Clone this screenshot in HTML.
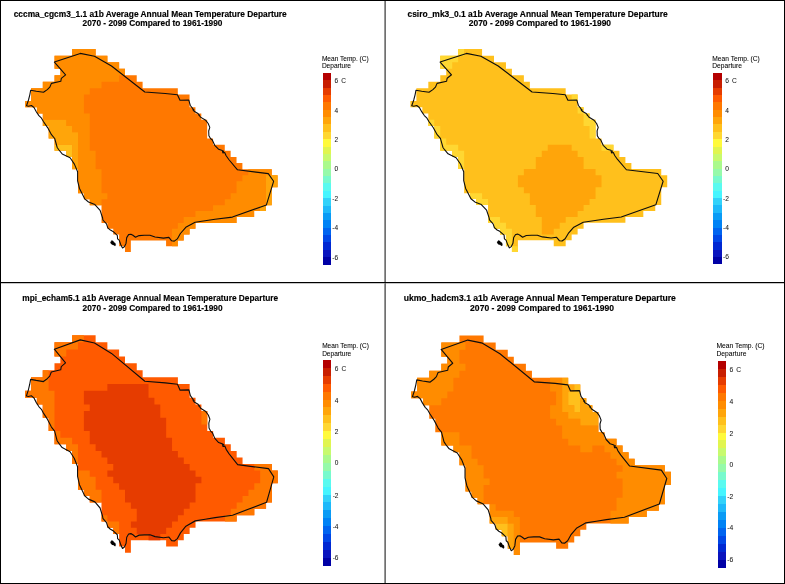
<!DOCTYPE html>
<html><head><meta charset="utf-8"><title>Average Annual Mean Temperature Departure</title>
<style>
html,body{margin:0;padding:0;background:#fff}
svg{display:block}
text{font-family:"Liberation Sans",sans-serif;white-space:pre}
</style></head><body>
<svg width="785" height="584" viewBox="0 0 785 584">
<rect x="0" y="0" width="785" height="584" fill="#fff"/>
<g transform="matrix(1.00000 0 0 1.00000 0.000 0.000)">
<g font-weight="bold" font-size="8.36" text-anchor="middle" fill="#000" stroke="#000" stroke-width="0.15"><text x="150.2" y="16.8" textLength="273" lengthAdjust="spacingAndGlyphs">cccma_cgcm3_1.1 a1b Average Annual Mean Temperature Departure</text><text x="152.5" y="26" textLength="139.9" lengthAdjust="spacingAndGlyphs">2070 - 2099 Compared to 1961-1990</text></g>
<path fill="#FF7800" d="M60.42 68.79V75.29H54.55V81.75H42.81V88.18H31.07V100.94H25.2V107.28H36.94V113.58H42.81V126.11H48.68V138.53H54.55V150.85H66.29V156.97H72.16V169.14H78.03V193.22H83.9V199.19H89.77V205.14H101.51V222.88H107.38V228.75H113.25V234.61H119.12V246.29H124.99V252.1H130.86V240.46H166.08V246.29H177.82V240.46H183.69V234.61H189.56V228.75H195.43V222.88H236.52V216.98H254.13V211.07H265.87V205.14H271.74V187.23H277.61V175.19H271.74V169.14H242.39V163.07H236.52V156.97H230.65V150.85H224.78V144.7H213.04V138.53H207.17V119.86H201.3V113.58H195.43V107.28H189.56V94.57H177.82V88.18H142.6V81.75H136.73V75.29H124.99V68.79H119.12V62.26H107.38V55.7H95.64V49.1H72.16V55.7H54.55V68.79Z"/>
<path fill="#FF8C00" d="M54.55 81.75H42.81V88.18H31.07V100.94H25.2V107.28H36.94V113.58H42.81V119.86H66.29V126.11H72.16V132.33H78.03V193.22H83.9V199.19H89.77V205.14H101.51V199.19H107.38V193.22H101.51V169.14H95.64V150.85H89.77V113.58H83.9V94.57H89.77V88.18H101.51V81.75H119.12V75.29H124.99V68.79H119.12V62.26H107.38V55.7H95.64V49.1H72.16V55.7H54.55V68.79H60.42V75.29H54.55ZM195.43 211.07V216.98H183.69V222.88H177.82V228.75H171.95V246.29H177.82V240.46H183.69V234.61H189.56V228.75H195.43V222.88H236.52V216.98H254.13V211.07H260V205.14H265.87V175.19H271.74V169.14H248.26V175.19H242.39V181.22H236.52V193.22H230.65V199.19H224.78V205.14H213.04V211.07Z"/>
<path fill="#FFA50A" d="M48.68 138.53H54.55V144.7H72.16V169.14H78.03V132.33H72.16V126.11H66.29V119.86H42.81V126.11H48.68ZM265.87 205.14H271.74V187.23H277.61V175.19H265.87ZM260 205.14V211.07H265.87V205.14Z"/>
<path fill="#FFC01C" d="M54.55 150.85H66.29V156.97H72.16V144.7H54.55Z"/>
<path d="M30.7 90.2 36.3 91.2 43.5 92.3 47.3 89.6 49.8 87.2 51.4 83.4 60.8 81.3 61.3 78.3 65.6 74.8 54.4 62.1 80.3 53.4 94.5 56.3 111.5 66.0 144.8 92.0 165.2 93.5 177.4 94.8 180.0 100.3 188.8 100.1 190.3 105.5 192.8 108.7 194.1 111.3 198.0 113.5 200.5 117.1 205.7 120.3 208.2 123.5 209.8 127.4 208.7 131.0 208.9 135.7 210.5 138.5 212.3 140.0 214.7 145.3 218.5 149.2 222.3 150.4 222.9 152.9 224.7 152.5 226.0 155.5 228.8 159.5 237.5 169.8 268.3 173.6 273.6 181.3 266.4 204.9 232.4 217.1 215.0 219.3 205.1 220.8 195.1 222.3 185.8 227.3 180.4 233.5 177.3 238.9 174.3 241.1 171.6 240.8 168.9 237.4 163.5 238.1 155.0 237.0 150.0 235.3 144.3 235.3 139.1 235.6 135.5 237.3 132.9 235.3 130.9 234.2 128.6 234.6 126.7 237.6 126.0 243.4 124.4 246.7 122.5 248.0 120.8 244.7 119.2 240.2 117.6 238.9 117.3 235.3 113.0 231.4 110.4 230.1 107.8 227.8 106.5 223.9 102.9 220.0 102.6 218.0 100.1 210.3 94.9 204.6 88.5 202.0 84.7 198.8 79.5 188.5 77.6 180.8 77.6 171.8 74.4 164.1 70.1 157.8 62.2 153.9 59.0 150.0 57.2 147.5 54.7 138.5 51.5 134.7 47.6 127.6 43.4 121.5 41.5 118.2 38.9 115.6 36.3 111.7 34.0 107.5 31.4 105.5 28.5 106.2 26.5 105.8 28.5 100.0 29.8 94.8Z" fill="none" stroke="#0d0d0d" stroke-width="1.08" stroke-linejoin="round"/><path d="M111.6 240.3 113.3 241.0 113.9 242.2 115.3 242.9 115.8 244.8 115.3 246.1 114.4 245.8 113.3 244.9 112.1 244.8 110.8 243.5 110.2 242.0 111.1 241.4Z" fill="#000" stroke="#000" stroke-width="0.1" stroke-linejoin="round"/><circle cx="193.5" cy="110.0" r="0.9" fill="#111"/><circle cx="199.3" cy="115.3" r="0.8" fill="#111"/><circle cx="223.3" cy="151.3" r="0.9" fill="#111"/>
<g transform="matrix(1 0 0 1.00000 0 0.0000)"><g shape-rendering="crispEdges"><rect x="323" y="72.9" width="8" height="7.37" fill="#B40000"/><rect x="323" y="80.27" width="8" height="7.37" fill="#C81E00"/><rect x="323" y="87.64" width="8" height="7.37" fill="#E63C00"/><rect x="323" y="95.01" width="8" height="7.37" fill="#FF5A00"/><rect x="323" y="102.38" width="8" height="7.37" fill="#FF7800"/><rect x="323" y="109.75" width="8" height="7.37" fill="#FF8C00"/><rect x="323" y="117.12" width="8" height="7.37" fill="#FFA50A"/><rect x="323" y="124.49" width="8" height="7.37" fill="#FFC01C"/><rect x="323" y="131.86" width="8" height="7.37" fill="#FFD732"/><rect x="323" y="139.23" width="8" height="7.37" fill="#FFFA3C"/><rect x="323" y="146.6" width="8" height="7.37" fill="#E1F550"/><rect x="323" y="153.97" width="8" height="7.37" fill="#C8FA6E"/><rect x="323" y="161.34" width="8" height="7.37" fill="#AAFA8C"/><rect x="323" y="168.71" width="8" height="7.37" fill="#96FAAA"/><rect x="323" y="176.08" width="8" height="7.37" fill="#78FACD"/><rect x="323" y="183.45" width="8" height="7.37" fill="#5AFAF0"/><rect x="323" y="190.82" width="8" height="7.37" fill="#46F5FF"/><rect x="323" y="198.19" width="8" height="7.37" fill="#32D2FA"/><rect x="323" y="205.56" width="8" height="7.37" fill="#1EB9FA"/><rect x="323" y="212.93" width="8" height="7.37" fill="#0A9BF5"/><rect x="323" y="220.3" width="8" height="7.37" fill="#0082F5"/><rect x="323" y="227.67" width="8" height="7.37" fill="#0064F0"/><rect x="323" y="235.04" width="8" height="7.37" fill="#0046E6"/><rect x="323" y="242.41" width="8" height="7.37" fill="#0028D2"/><rect x="323" y="249.78" width="8" height="7.37" fill="#0A14BE"/><rect x="323" y="257.15" width="8" height="7.37" fill="#0000A5"/></g>
<g font-size="6.55" fill="#111" stroke="#000" stroke-width="0.04"><text x="338.2" y="83.17" text-anchor="end">6</text><text x="338.2" y="112.65" text-anchor="end">4</text><text x="338.2" y="142.13" text-anchor="end">2</text><text x="338.2" y="171.01" text-anchor="end">0</text><text x="338.2" y="201.09" text-anchor="end">-2</text><text x="338.2" y="229.87" text-anchor="end">-4</text><text x="338.2" y="259.55" text-anchor="end">-6</text><text x="341.2" y="83.17">C</text></g></g>
<g font-size="6.55" fill="#000" stroke="#000" stroke-width="0.06"><text x="321.9" y="60.8">Mean Temp. (C)</text><text x="321.9" y="68.1">Departure</text></g>
</g>
<g transform="matrix(1.01743 0 0 0.99951 384.761 0.024)">
<g font-weight="bold" font-size="8.36" text-anchor="middle" fill="#000" stroke="#000" stroke-width="0.15"><text x="150.2" y="16.8" textLength="255.75" lengthAdjust="spacingAndGlyphs">csiro_mk3_0.1 a1b Average Annual Mean Temperature Departure</text><text x="152.5" y="26" textLength="139.9" lengthAdjust="spacingAndGlyphs">2070 - 2099 Compared to 1961-1990</text></g>
<path fill="#FFC01C" d="M54.55 68.79H60.42V75.29H54.55V81.75H42.81V88.18H31.07V100.94H25.2V107.28H36.94V113.58H42.81V126.11H48.68V138.53H54.55V150.85H66.29V156.97H72.16V169.14H78.03V193.22H83.9V199.19H89.77V205.14H101.51V222.88H107.38V228.75H113.25V234.61H119.12V246.29H124.99V252.1H130.86V240.46H166.08V246.29H177.82V240.46H183.69V234.61H189.56V228.75H195.43V222.88H236.52V216.98H254.13V211.07H265.87V205.14H271.74V187.23H277.61V175.19H271.74V169.14H242.39V163.07H236.52V156.97H230.65V150.85H224.78V144.7H213.04V138.53H207.17V119.86H201.3V113.58H195.43V107.28H189.56V94.57H177.82V88.18H142.6V81.75H136.73V75.29H124.99V68.79H119.12V62.26H107.38V55.7H95.64V49.1H72.16V55.7H54.55Z"/>
<path fill="#FFD732" d="M72.16 49.1V55.7H78.03V49.1ZM54.55 55.7V68.79H66.29V62.26H72.16V55.7ZM48.68 119.86H42.81V126.11H48.68ZM54.55 126.11H48.68V138.53H54.55ZM66.29 150.85V156.97H72.16V169.14H78.03V150.85H72.16V144.7H60.42V138.53H54.55V150.85ZM83.9 193.22V199.19H89.77V205.14H101.51V199.19H95.64V193.22ZM183.69 94.57V100.94H189.56V94.57ZM195.43 107.28H189.56V113.58H195.43ZM195.43 126.11H201.3V138.53H207.17V119.86H201.3V113.58H195.43ZM224.78 150.85V144.7H213.04V150.85ZM113.25 228.75V234.61H119.12V246.29H124.99V228.75H119.12V222.88H113.25V216.98H101.51V222.88H107.38V228.75ZM130.86 252.1V246.29H124.99V252.1Z"/>
<path fill="#FFA50A" d="M154.34 156.97H148.47V169.14H136.73V175.19H130.86V187.23H136.73V193.22H142.6V205.14H148.47V216.98H154.34V234.61H166.08V228.75H171.95V222.88H177.82V216.98H189.56V211.07H195.43V205.14H201.3V199.19H207.17V187.23H213.04V175.19H207.17V169.14H195.43V156.97H189.56V150.85H183.69V144.7H160.21V150.85H154.34Z"/>
<path d="M30.7 90.2 36.3 91.2 43.5 92.3 47.3 89.6 49.8 87.2 51.4 83.4 60.8 81.3 61.3 78.3 65.6 74.8 54.4 62.1 80.3 53.4 94.5 56.3 111.5 66.0 144.8 92.0 165.2 93.5 177.4 94.8 180.0 100.3 188.8 100.1 190.3 105.5 192.8 108.7 194.1 111.3 198.0 113.5 200.5 117.1 205.7 120.3 208.2 123.5 209.8 127.4 208.7 131.0 208.9 135.7 210.5 138.5 212.3 140.0 214.7 145.3 218.5 149.2 222.3 150.4 222.9 152.9 224.7 152.5 226.0 155.5 228.8 159.5 237.5 169.8 268.3 173.6 273.6 181.3 266.4 204.9 232.4 217.1 215.0 219.3 205.1 220.8 195.1 222.3 185.8 227.3 180.4 233.5 177.3 238.9 174.3 241.1 171.6 240.8 168.9 237.4 163.5 238.1 155.0 237.0 150.0 235.3 144.3 235.3 139.1 235.6 135.5 237.3 132.9 235.3 130.9 234.2 128.6 234.6 126.7 237.6 126.0 243.4 124.4 246.7 122.5 248.0 120.8 244.7 119.2 240.2 117.6 238.9 117.3 235.3 113.0 231.4 110.4 230.1 107.8 227.8 106.5 223.9 102.9 220.0 102.6 218.0 100.1 210.3 94.9 204.6 88.5 202.0 84.7 198.8 79.5 188.5 77.6 180.8 77.6 171.8 74.4 164.1 70.1 157.8 62.2 153.9 59.0 150.0 57.2 147.5 54.7 138.5 51.5 134.7 47.6 127.6 43.4 121.5 41.5 118.2 38.9 115.6 36.3 111.7 34.0 107.5 31.4 105.5 28.5 106.2 26.5 105.8 28.5 100.0 29.8 94.8Z" fill="none" stroke="#0d0d0d" stroke-width="1.08" stroke-linejoin="round"/><path d="M111.6 240.3 113.3 241.0 113.9 242.2 115.3 242.9 115.8 244.8 115.3 246.1 114.4 245.8 113.3 244.9 112.1 244.8 110.8 243.5 110.2 242.0 111.1 241.4Z" fill="#000" stroke="#000" stroke-width="0.1" stroke-linejoin="round"/><circle cx="193.5" cy="110.0" r="0.9" fill="#111"/><circle cx="199.3" cy="115.3" r="0.8" fill="#111"/><circle cx="223.3" cy="151.3" r="0.9" fill="#111"/>
<g transform="matrix(1 0 0 1.00000 0 0.0000)"><g shape-rendering="crispEdges"><rect x="323" y="72.9" width="8" height="7.37" fill="#B40000"/><rect x="323" y="80.27" width="8" height="7.37" fill="#C81E00"/><rect x="323" y="87.64" width="8" height="7.37" fill="#E63C00"/><rect x="323" y="95.01" width="8" height="7.37" fill="#FF5A00"/><rect x="323" y="102.38" width="8" height="7.37" fill="#FF7800"/><rect x="323" y="109.75" width="8" height="7.37" fill="#FF8C00"/><rect x="323" y="117.12" width="8" height="7.37" fill="#FFA50A"/><rect x="323" y="124.49" width="8" height="7.37" fill="#FFC01C"/><rect x="323" y="131.86" width="8" height="7.37" fill="#FFD732"/><rect x="323" y="139.23" width="8" height="7.37" fill="#FFFA3C"/><rect x="323" y="146.6" width="8" height="7.37" fill="#E1F550"/><rect x="323" y="153.97" width="8" height="7.37" fill="#C8FA6E"/><rect x="323" y="161.34" width="8" height="7.37" fill="#AAFA8C"/><rect x="323" y="168.71" width="8" height="7.37" fill="#96FAAA"/><rect x="323" y="176.08" width="8" height="7.37" fill="#78FACD"/><rect x="323" y="183.45" width="8" height="7.37" fill="#5AFAF0"/><rect x="323" y="190.82" width="8" height="7.37" fill="#46F5FF"/><rect x="323" y="198.19" width="8" height="7.37" fill="#32D2FA"/><rect x="323" y="205.56" width="8" height="7.37" fill="#1EB9FA"/><rect x="323" y="212.93" width="8" height="7.37" fill="#0A9BF5"/><rect x="323" y="220.3" width="8" height="7.37" fill="#0082F5"/><rect x="323" y="227.67" width="8" height="7.37" fill="#0064F0"/><rect x="323" y="235.04" width="8" height="7.37" fill="#0046E6"/><rect x="323" y="242.41" width="8" height="7.37" fill="#0028D2"/><rect x="323" y="249.78" width="8" height="7.37" fill="#0A14BE"/><rect x="323" y="257.15" width="8" height="7.37" fill="#0000A5"/></g>
<g font-size="6.55" fill="#111" stroke="#000" stroke-width="0.04"><text x="338.2" y="83.17" text-anchor="end">6</text><text x="338.2" y="112.65" text-anchor="end">4</text><text x="338.2" y="142.13" text-anchor="end">2</text><text x="338.2" y="171.01" text-anchor="end">0</text><text x="338.2" y="201.09" text-anchor="end">-2</text><text x="338.2" y="229.87" text-anchor="end">-4</text><text x="338.2" y="259.55" text-anchor="end">-6</text><text x="341.2" y="83.17">C</text></g></g>
<g font-size="6.55" fill="#000" stroke="#000" stroke-width="0.06"><text x="321.9" y="60.8">Mean Temp. (C)</text><text x="321.9" y="68.1">Departure</text></g>
</g>
<g transform="matrix(1.00119 0 0 1.07143 -0.130 282.693)">
<g font-weight="bold" font-size="8.36" text-anchor="middle" fill="#000" stroke="#000" stroke-width="0.15"><text x="150.2" y="16.8" textLength="255.5" lengthAdjust="spacingAndGlyphs">mpi_echam5.1 a1b Average Annual Mean Temperature Departure</text><text x="152.5" y="26" textLength="139.9" lengthAdjust="spacingAndGlyphs">2070 - 2099 Compared to 1961-1990</text></g>
<path fill="#FF5A00" d="M54.55 55.7V68.79H60.42V75.29H54.55V81.75H42.81V88.18H31.07V100.94H25.2V107.28H36.94V113.58H42.81V126.11H48.68V138.53H54.55V150.85H66.29V156.97H72.16V169.14H78.03V193.22H83.9V199.19H89.77V205.14H101.51V222.88H107.38V228.75H113.25V234.61H119.12V246.29H124.99V252.1H130.86V240.46H166.08V246.29H177.82V240.46H183.69V234.61H189.56V228.75H195.43V222.88H236.52V216.98H254.13V211.07H265.87V205.14H271.74V187.23H277.61V175.19H271.74V169.14H242.39V163.07H236.52V156.97H230.65V150.85H224.78V144.7H213.04V138.53H207.17V119.86H201.3V113.58H195.43V107.28H189.56V94.57H177.82V88.18H142.6V81.75H136.73V75.29H124.99V68.79H119.12V62.26H107.38V55.7H95.64V49.1H72.16V55.7Z"/>
<path fill="#FF7800" d="M66.29 62.26H78.03V55.7H83.9V49.1H72.16V55.7H54.55V68.79H66.29ZM31.07 88.18V100.94H25.2V107.28H36.94V113.58H42.81V126.11H48.68V138.53H54.55V100.94H48.68V81.75H42.81V88.18ZM66.29 156.97H72.16V169.14H78.03V150.85H72.16V144.7H60.42V138.53H54.55V150.85H66.29ZM207.17 119.86H201.3V132.33H207.17ZM78.03 193.22H83.9V199.19H89.77V205.14H101.51V193.22H95.64V181.22H89.77V175.19H78.03ZM236.52 211.07H230.65V216.98H224.78V222.88H236.52V216.98H254.13V211.07H265.87V205.14H271.74V187.23H277.61V175.19H271.74V169.14H254.13V175.19H260V187.23H254.13V193.22H248.26V199.19H242.39V205.14H236.52ZM107.38 222.88V216.98H101.51V222.88ZM119.12 222.88H107.38V228.75H113.25V234.61H119.12Z"/>
<path fill="#E63C00" d="M83.9 113.58H89.77V119.86H83.9V138.53H89.77V150.85H95.64V156.97H101.51V163.07H107.38V169.14H113.25V175.19H107.38V181.22H113.25V187.23H119.12V193.22H124.99V205.14H130.86V211.07H136.73V222.88H130.86V228.75H136.73V234.61H148.47V240.46H160.21V234.61H166.08V228.75H171.95V222.88H177.82V216.98H183.69V211.07H189.56V205.14H195.43V187.23H201.3V181.22H195.43V175.19H189.56V169.14H183.69V163.07H177.82V156.97H171.95V144.7H166.08V126.11H160.21V113.58H154.34V107.28H148.47V94.57H107.38V100.94H83.9Z"/>
<path d="M30.7 90.2 36.3 91.2 43.5 92.3 47.3 89.6 49.8 87.2 51.4 83.4 60.8 81.3 61.3 78.3 65.6 74.8 54.4 62.1 80.3 53.4 94.5 56.3 111.5 66.0 144.8 92.0 165.2 93.5 177.4 94.8 180.0 100.3 188.8 100.1 190.3 105.5 192.8 108.7 194.1 111.3 198.0 113.5 200.5 117.1 205.7 120.3 208.2 123.5 209.8 127.4 208.7 131.0 208.9 135.7 210.5 138.5 212.3 140.0 214.7 145.3 218.5 149.2 222.3 150.4 222.9 152.9 224.7 152.5 226.0 155.5 228.8 159.5 237.5 169.8 268.3 173.6 273.6 181.3 266.4 204.9 232.4 217.1 215.0 219.3 205.1 220.8 195.1 222.3 185.8 227.3 180.4 233.5 177.3 238.9 174.3 241.1 171.6 240.8 168.9 237.4 163.5 238.1 155.0 237.0 150.0 235.3 144.3 235.3 139.1 235.6 135.5 237.3 132.9 235.3 130.9 234.2 128.6 234.6 126.7 237.6 126.0 243.4 124.4 246.7 122.5 248.0 120.8 244.7 119.2 240.2 117.6 238.9 117.3 235.3 113.0 231.4 110.4 230.1 107.8 227.8 106.5 223.9 102.9 220.0 102.6 218.0 100.1 210.3 94.9 204.6 88.5 202.0 84.7 198.8 79.5 188.5 77.6 180.8 77.6 171.8 74.4 164.1 70.1 157.8 62.2 153.9 59.0 150.0 57.2 147.5 54.7 138.5 51.5 134.7 47.6 127.6 43.4 121.5 41.5 118.2 38.9 115.6 36.3 111.7 34.0 107.5 31.4 105.5 28.5 106.2 26.5 105.8 28.5 100.0 29.8 94.8Z" fill="none" stroke="#0d0d0d" stroke-width="1.08" stroke-linejoin="round"/><path d="M111.6 240.3 113.3 241.0 113.9 242.2 115.3 242.9 115.8 244.8 115.3 246.1 114.4 245.8 113.3 244.9 112.1 244.8 110.8 243.5 110.2 242.0 111.1 241.4Z" fill="#000" stroke="#000" stroke-width="0.1" stroke-linejoin="round"/><circle cx="193.5" cy="110.0" r="0.9" fill="#111"/><circle cx="199.3" cy="115.3" r="0.8" fill="#111"/><circle cx="223.3" cy="151.3" r="0.9" fill="#111"/>
<g transform="matrix(1 0 0 1.00244 0 -0.9242)"><g shape-rendering="crispEdges"><rect x="323" y="72.9" width="8" height="7.37" fill="#B40000"/><rect x="323" y="80.27" width="8" height="7.37" fill="#C81E00"/><rect x="323" y="87.64" width="8" height="7.37" fill="#E63C00"/><rect x="323" y="95.01" width="8" height="7.37" fill="#FF5A00"/><rect x="323" y="102.38" width="8" height="7.37" fill="#FF7800"/><rect x="323" y="109.75" width="8" height="7.37" fill="#FF8C00"/><rect x="323" y="117.12" width="8" height="7.37" fill="#FFA50A"/><rect x="323" y="124.49" width="8" height="7.37" fill="#FFC01C"/><rect x="323" y="131.86" width="8" height="7.37" fill="#FFD732"/><rect x="323" y="139.23" width="8" height="7.37" fill="#FFFA3C"/><rect x="323" y="146.6" width="8" height="7.37" fill="#E1F550"/><rect x="323" y="153.97" width="8" height="7.37" fill="#C8FA6E"/><rect x="323" y="161.34" width="8" height="7.37" fill="#AAFA8C"/><rect x="323" y="168.71" width="8" height="7.37" fill="#96FAAA"/><rect x="323" y="176.08" width="8" height="7.37" fill="#78FACD"/><rect x="323" y="183.45" width="8" height="7.37" fill="#5AFAF0"/><rect x="323" y="190.82" width="8" height="7.37" fill="#46F5FF"/><rect x="323" y="198.19" width="8" height="7.37" fill="#32D2FA"/><rect x="323" y="205.56" width="8" height="7.37" fill="#1EB9FA"/><rect x="323" y="212.93" width="8" height="7.37" fill="#0A9BF5"/><rect x="323" y="220.3" width="8" height="7.37" fill="#0082F5"/><rect x="323" y="227.67" width="8" height="7.37" fill="#0064F0"/><rect x="323" y="235.04" width="8" height="7.37" fill="#0046E6"/><rect x="323" y="242.41" width="8" height="7.37" fill="#0028D2"/><rect x="323" y="249.78" width="8" height="7.37" fill="#0A14BE"/><rect x="323" y="257.15" width="8" height="7.37" fill="#0000A5"/></g>
<g font-size="6.55" fill="#111" stroke="#000" stroke-width="0.04"><text x="338.2" y="83.17" text-anchor="end">6</text><text x="338.2" y="112.65" text-anchor="end">4</text><text x="338.2" y="142.13" text-anchor="end">2</text><text x="338.2" y="171.01" text-anchor="end">0</text><text x="338.2" y="201.09" text-anchor="end">-2</text><text x="338.2" y="229.87" text-anchor="end">-4</text><text x="338.2" y="259.55" text-anchor="end">-6</text><text x="341.2" y="83.17">C</text></g></g>
<g font-size="6.55" fill="#000" stroke="#000" stroke-width="0.06"><text x="321.9" y="60.8">Mean Temp. (C)</text><text x="321.9" y="68.1">Departure</text></g>
</g>
<g transform="matrix(1.02932 0 0 1.08227 385.161 282.261)">
<g font-weight="bold" font-size="8.36" text-anchor="middle" fill="#000" stroke="#000" stroke-width="0.15"><text x="150.2" y="17.6" textLength="264.5" lengthAdjust="spacingAndGlyphs">ukmo_hadcm3.1 a1b Average Annual Mean Temperature Departure</text><text x="152.5" y="26.8" textLength="139.9" lengthAdjust="spacingAndGlyphs">2070 - 2099 Compared to 1961-1990</text></g>
<path fill="#FF7800" d="M54.55 68.79H60.42V75.29H54.55V81.75H42.81V88.18H31.07V100.94H25.2V107.28H36.94V113.58H42.81V126.11H48.68V138.53H54.55V150.85H66.29V156.97H72.16V169.14H78.03V193.22H83.9V199.19H89.77V205.14H101.51V222.88H107.38V228.75H113.25V234.61H119.12V246.29H124.99V252.1H130.86V240.46H166.08V246.29H177.82V240.46H183.69V234.61H189.56V228.75H195.43V222.88H236.52V216.98H254.13V211.07H265.87V205.14H271.74V187.23H277.61V175.19H271.74V169.14H242.39V163.07H236.52V156.97H230.65V150.85H224.78V144.7H213.04V138.53H207.17V119.86H201.3V113.58H195.43V107.28H189.56V94.57H177.82V88.18H142.6V81.75H136.73V75.29H124.99V68.79H119.12V62.26H107.38V55.7H95.64V49.1H72.16V55.7H54.55Z"/>
<path fill="#FF8C00" d="M54.55 81.75H42.81V88.18H31.07V100.94H25.2V107.28H36.94V113.58H54.55V107.28H60.42V100.94H66.29V88.18H72.16V81.75H78.03V75.29H72.16V62.26H78.03V55.7H54.55V68.79H60.42V75.29H54.55ZM54.55 150.85H66.29V156.97H72.16V169.14H78.03V193.22H83.9V199.19H89.77V205.14H95.64V187.23H101.51V181.22H95.64V169.14H89.77V163.07H83.9V150.85H72.16V138.53H54.55ZM101.51 216.98H119.12V222.88H124.99V252.1H130.86V216.98H124.99V211.07H107.38V205.14H101.51ZM166.08 113.58H160.21V126.11H166.08V132.33H171.95V144.7H177.82V150.85H189.56V156.97H201.3V150.85H213.04V156.97H218.91V163.07H224.78V169.14H230.65V175.19H224.78V181.22H230.65V199.19H224.78V211.07H218.91V222.88H236.52V216.98H254.13V211.07H265.87V205.14H271.74V187.23H277.61V175.19H271.74V169.14H242.39V163.07H236.52V156.97H230.65V150.85H224.78V144.7H213.04V138.53H207.17V132.33H189.56V126.11H177.82V119.86H171.95V88.18H160.21V100.94H166.08Z"/>
<path fill="#FFA50A" d="M171.95 119.86H177.82V126.11H189.56V132.33H207.17V119.86H201.3V113.58H195.43V107.28H189.56V119.86H183.69V113.58H177.82V100.94H183.69V94.57H177.82V88.18H171.95ZM119.12 222.88V216.98H101.51V222.88ZM119.12 246.29H124.99V222.88H119.12Z"/>
<path fill="#FFC01C" d="M183.69 94.57V100.94H177.82V113.58H183.69V119.86H189.56V94.57ZM113.25 228.75V234.61H119.12V222.88H107.38V228.75Z"/>
<path d="M30.7 90.2 36.3 91.2 43.5 92.3 47.3 89.6 49.8 87.2 51.4 83.4 60.8 81.3 61.3 78.3 65.6 74.8 54.4 62.1 80.3 53.4 94.5 56.3 111.5 66.0 144.8 92.0 165.2 93.5 177.4 94.8 180.0 100.3 188.8 100.1 190.3 105.5 192.8 108.7 194.1 111.3 198.0 113.5 200.5 117.1 205.7 120.3 208.2 123.5 209.8 127.4 208.7 131.0 208.9 135.7 210.5 138.5 212.3 140.0 214.7 145.3 218.5 149.2 222.3 150.4 222.9 152.9 224.7 152.5 226.0 155.5 228.8 159.5 237.5 169.8 268.3 173.6 273.6 181.3 266.4 204.9 232.4 217.1 215.0 219.3 205.1 220.8 195.1 222.3 185.8 227.3 180.4 233.5 177.3 238.9 174.3 241.1 171.6 240.8 168.9 237.4 163.5 238.1 155.0 237.0 150.0 235.3 144.3 235.3 139.1 235.6 135.5 237.3 132.9 235.3 130.9 234.2 128.6 234.6 126.7 237.6 126.0 243.4 124.4 246.7 122.5 248.0 120.8 244.7 119.2 240.2 117.6 238.9 117.3 235.3 113.0 231.4 110.4 230.1 107.8 227.8 106.5 223.9 102.9 220.0 102.6 218.0 100.1 210.3 94.9 204.6 88.5 202.0 84.7 198.8 79.5 188.5 77.6 180.8 77.6 171.8 74.4 164.1 70.1 157.8 62.2 153.9 59.0 150.0 57.2 147.5 54.7 138.5 51.5 134.7 47.6 127.6 43.4 121.5 41.5 118.2 38.9 115.6 36.3 111.7 34.0 107.5 31.4 105.5 28.5 106.2 26.5 105.8 28.5 100.0 29.8 94.8Z" fill="none" stroke="#0d0d0d" stroke-width="1.08" stroke-linejoin="round"/><path d="M111.6 240.3 113.3 241.0 113.9 242.2 115.3 242.9 115.8 244.8 115.3 246.1 114.4 245.8 113.3 244.9 112.1 244.8 110.8 243.5 110.2 242.0 111.1 241.4Z" fill="#000" stroke="#000" stroke-width="0.1" stroke-linejoin="round"/><circle cx="193.5" cy="110.0" r="0.9" fill="#111"/><circle cx="199.3" cy="115.3" r="0.8" fill="#111"/><circle cx="223.3" cy="151.3" r="0.9" fill="#111"/>
<g transform="matrix(1 0 0 0.99807 0 -0.1366)"><g shape-rendering="crispEdges"><rect x="323" y="72.9" width="8" height="7.37" fill="#B40000"/><rect x="323" y="80.27" width="8" height="7.37" fill="#C81E00"/><rect x="323" y="87.64" width="8" height="7.37" fill="#E63C00"/><rect x="323" y="95.01" width="8" height="7.37" fill="#FF5A00"/><rect x="323" y="102.38" width="8" height="7.37" fill="#FF7800"/><rect x="323" y="109.75" width="8" height="7.37" fill="#FF8C00"/><rect x="323" y="117.12" width="8" height="7.37" fill="#FFA50A"/><rect x="323" y="124.49" width="8" height="7.37" fill="#FFC01C"/><rect x="323" y="131.86" width="8" height="7.37" fill="#FFD732"/><rect x="323" y="139.23" width="8" height="7.37" fill="#FFFA3C"/><rect x="323" y="146.6" width="8" height="7.37" fill="#E1F550"/><rect x="323" y="153.97" width="8" height="7.37" fill="#C8FA6E"/><rect x="323" y="161.34" width="8" height="7.37" fill="#AAFA8C"/><rect x="323" y="168.71" width="8" height="7.37" fill="#96FAAA"/><rect x="323" y="176.08" width="8" height="7.37" fill="#78FACD"/><rect x="323" y="183.45" width="8" height="7.37" fill="#5AFAF0"/><rect x="323" y="190.82" width="8" height="7.37" fill="#46F5FF"/><rect x="323" y="198.19" width="8" height="7.37" fill="#32D2FA"/><rect x="323" y="205.56" width="8" height="7.37" fill="#1EB9FA"/><rect x="323" y="212.93" width="8" height="7.37" fill="#0A9BF5"/><rect x="323" y="220.3" width="8" height="7.37" fill="#0082F5"/><rect x="323" y="227.67" width="8" height="7.37" fill="#0064F0"/><rect x="323" y="235.04" width="8" height="7.37" fill="#0046E6"/><rect x="323" y="242.41" width="8" height="7.37" fill="#0028D2"/><rect x="323" y="249.78" width="8" height="7.37" fill="#0A14BE"/><rect x="323" y="257.15" width="8" height="7.37" fill="#0000A5"/></g>
<g font-size="6.55" fill="#111" stroke="#000" stroke-width="0.04"><text x="338.2" y="83.17" text-anchor="end">6</text><text x="338.2" y="112.65" text-anchor="end">4</text><text x="338.2" y="142.13" text-anchor="end">2</text><text x="338.2" y="171.01" text-anchor="end">0</text><text x="338.2" y="201.09" text-anchor="end">-2</text><text x="338.2" y="229.87" text-anchor="end">-4</text><text x="338.2" y="259.55" text-anchor="end">-6</text><text x="341.2" y="83.17">C</text></g></g>
<g font-size="6.55" fill="#000" stroke="#000" stroke-width="0.06"><text x="321.9" y="60.8">Mean Temp. (C)</text><text x="321.9" y="68.1">Departure</text></g>
</g>
<g shape-rendering="crispEdges">
<rect x="0" y="283" width="785" height="1" fill="#c6c6c6"/>
<rect x="384" y="0" width="1" height="584" fill="#989898"/><rect x="385" y="0" width="1" height="584" fill="#707070"/>
<rect x="0" y="282" width="785" height="1" fill="#000"/>
<rect x="0" y="0" width="785" height="1" fill="#000"/>
<rect x="0" y="583" width="785" height="1" fill="#000"/>
<rect x="0" y="0" width="1" height="584" fill="#000"/>
<rect x="784" y="0" width="1" height="584" fill="#000"/>
</g>
</svg>
</body></html>
